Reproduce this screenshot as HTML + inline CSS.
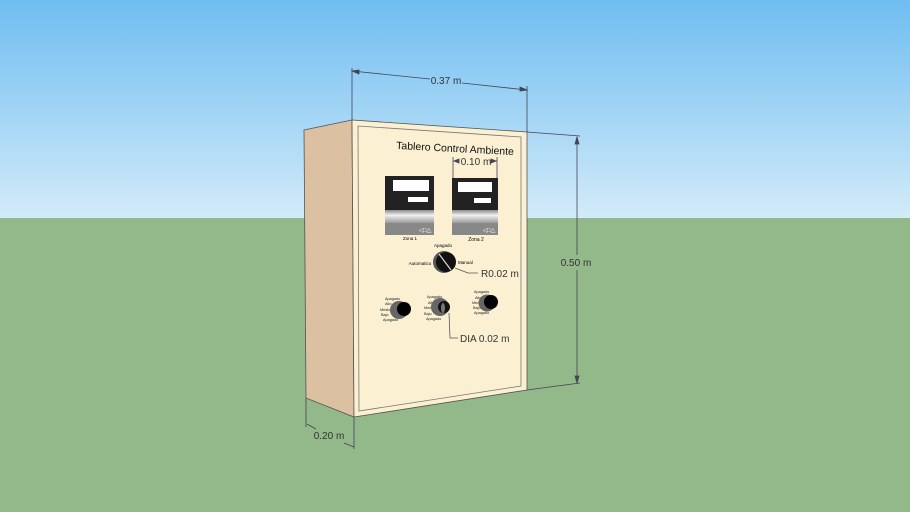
<!DOCTYPE html>
<html><head><meta charset="utf-8"><style>html,body{margin:0;padding:0}body{width:910px;height:512px;overflow:hidden}</style></head><body>
<svg width="910" height="512" viewBox="0 0 910 512" xmlns="http://www.w3.org/2000/svg" font-family="Liberation Sans, sans-serif">
<defs>
<linearGradient id="sky" x1="0" y1="0" x2="0" y2="1"><stop offset="0" stop-color="#6fbdf1"/><stop offset="1" stop-color="#d3ebf9"/></linearGradient>
<linearGradient id="met" x1="0" y1="0" x2="0" y2="1"><stop offset="0" stop-color="#8a8a8a"/><stop offset="0.4" stop-color="#f0f0f0"/><stop offset="1" stop-color="#9a9a9a"/></linearGradient>
<linearGradient id="metx" x1="0" y1="0" x2="1" y2="0"><stop offset="0" stop-color="#777"/><stop offset="0.5" stop-color="#fff" stop-opacity="0.6"/><stop offset="1" stop-color="#777"/></linearGradient>
</defs>
<rect x="0" y="0" width="910" height="219" fill="url(#sky)"/>
<rect x="0" y="218" width="910" height="294" fill="#93b88a"/>
<!-- side -->
<polygon points="304,130 352,120 354,417 306,398" fill="#dcc0a2" stroke="#555" stroke-width="0.8"/>
<!-- front -->
<polygon points="352,120 527,132 527,390 354,417" fill="#fbf0d2" stroke="#555" stroke-width="0.8"/>
<polygon points="358,126 521,137 521,386 359,411" fill="none" stroke="#777" stroke-width="0.8"/>
<text x="455" y="152" font-size="10.5" text-anchor="middle" transform="rotate(3 455 150)" fill="#111">Tablero Control Ambiente</text>
<!-- displays -->
<g>
<rect x="385" y="176" width="49" height="34" fill="#222"/>
<rect x="393" y="180" width="36" height="11" fill="#fff"/>
<rect x="408" y="197" width="20" height="5" fill="#fff"/>
<rect x="385" y="210" width="49" height="13" fill="url(#met)"/>
<rect x="385" y="223" width="49" height="12" fill="#888"/>
<text x="425" y="232" font-size="6" fill="#fff" text-anchor="middle">◁□△</text>
<text x="410" y="240" font-size="4.5" text-anchor="middle">Zona 1</text>
</g>
<g>
<rect x="452" y="178" width="46" height="32" fill="#222"/>
<rect x="458" y="182" width="34" height="10" fill="#fff"/>
<rect x="474" y="198" width="17" height="5" fill="#fff"/>
<rect x="452" y="210" width="46" height="13" fill="url(#met)"/>
<rect x="452" y="223" width="46" height="12" fill="#888"/>
<text x="489" y="232" font-size="6" fill="#fff" text-anchor="middle">◁□△</text>
<text x="476" y="241" font-size="5" text-anchor="middle">Zona 2</text>
</g>
<!-- mode dial -->
<text x="443" y="247" font-size="4.5" text-anchor="middle">Apagado</text>
<text x="420" y="265" font-size="4.5" text-anchor="middle">Automatico</text>
<text x="458" y="264" font-size="4.5">Manual</text>
<circle cx="444" cy="262" r="11" fill="#555"/>
<circle cx="446" cy="262" r="10" fill="#111"/>
<line x1="439" y1="254" x2="451" y2="270" stroke="#ddd" stroke-width="1.2"/>
<polyline points="455,268 468,273 478,273" fill="none" stroke="#555" stroke-width="0.8"/>
<text x="481" y="277" font-size="10" fill="#333">R0.02 m</text>
<!-- knobs -->
<g font-size="3.8" fill="#222">
<text x="385" y="300">Apagado</text><text x="385" y="305">Alto</text><text x="380" y="311">Medio</text><text x="381" y="316">Bajo</text><text x="383" y="321">Apagado</text>
<text x="427" y="298">Apagado</text><text x="428" y="304">Alto</text><text x="424" y="309">Medio</text><text x="424" y="315">Bajo</text><text x="426" y="320">Apagado</text>
<text x="474" y="293">Apagado</text><text x="475" y="299">Alto</text><text x="472" y="304">Medio</text><text x="473" y="309">Bajo</text><text x="474" y="314">Apagado</text>
</g>
<circle cx="399" cy="310" r="9" fill="#666"/><circle cx="404" cy="309" r="7" fill="#000"/>
<circle cx="440" cy="307" r="9" fill="#666"/><circle cx="444" cy="307" r="6" fill="#111"/><ellipse cx="443" cy="308" rx="2" ry="5" fill="#777"/>
<circle cx="487" cy="303" r="8.5" fill="#666"/><circle cx="491" cy="302" r="7" fill="#000"/>
<polyline points="449,313 450,338 458,338" fill="none" stroke="#555" stroke-width="0.8"/>
<text x="460" y="342" font-size="10" fill="#333">DIA 0.02 m</text>
<!-- dimension 0.37 -->
<g stroke="#445" stroke-width="0.8" fill="#445">
<line x1="352" y1="68" x2="352" y2="120"/>
<line x1="527" y1="86" x2="527" y2="132"/>
<line x1="352" y1="71" x2="430" y2="79"/><line x1="462" y1="83" x2="527" y2="90"/>
<polygon points="352,71 359,70 359,74"/><polygon points="527,90 520,87 520,91"/>
<line x1="527" y1="132" x2="580" y2="136"/>
<line x1="527" y1="390" x2="580" y2="383"/>
<line x1="577" y1="137" x2="577" y2="255"/><line x1="577" y1="270" x2="577" y2="383"/>
<polygon points="577,137 575,144 579,144"/><polygon points="577,383 575,376 579,376"/>
<line x1="453" y1="157" x2="453" y2="178"/><line x1="497" y1="157" x2="497" y2="178"/>
<line x1="453" y1="161" x2="458" y2="161"/><line x1="493" y1="161" x2="497" y2="161"/>
<polygon points="454,161 459,159 459,163"/><polygon points="496,161 491,159 491,163"/>
<line x1="306" y1="398" x2="306" y2="427"/><line x1="354" y1="417" x2="354" y2="449"/>
<line x1="307" y1="424" x2="316" y2="429"/><line x1="344" y1="443" x2="354" y2="447"/>
</g>
<g fill="#333" font-size="10">
<text x="446" y="84" text-anchor="middle">0.37 m</text>
<text x="476" y="165" text-anchor="middle">0.10 m</text>
<text x="576" y="266" text-anchor="middle">0.50 m</text>
<text x="329" y="439" text-anchor="middle">0.20 m</text>
</g>
</svg>
</body></html>
